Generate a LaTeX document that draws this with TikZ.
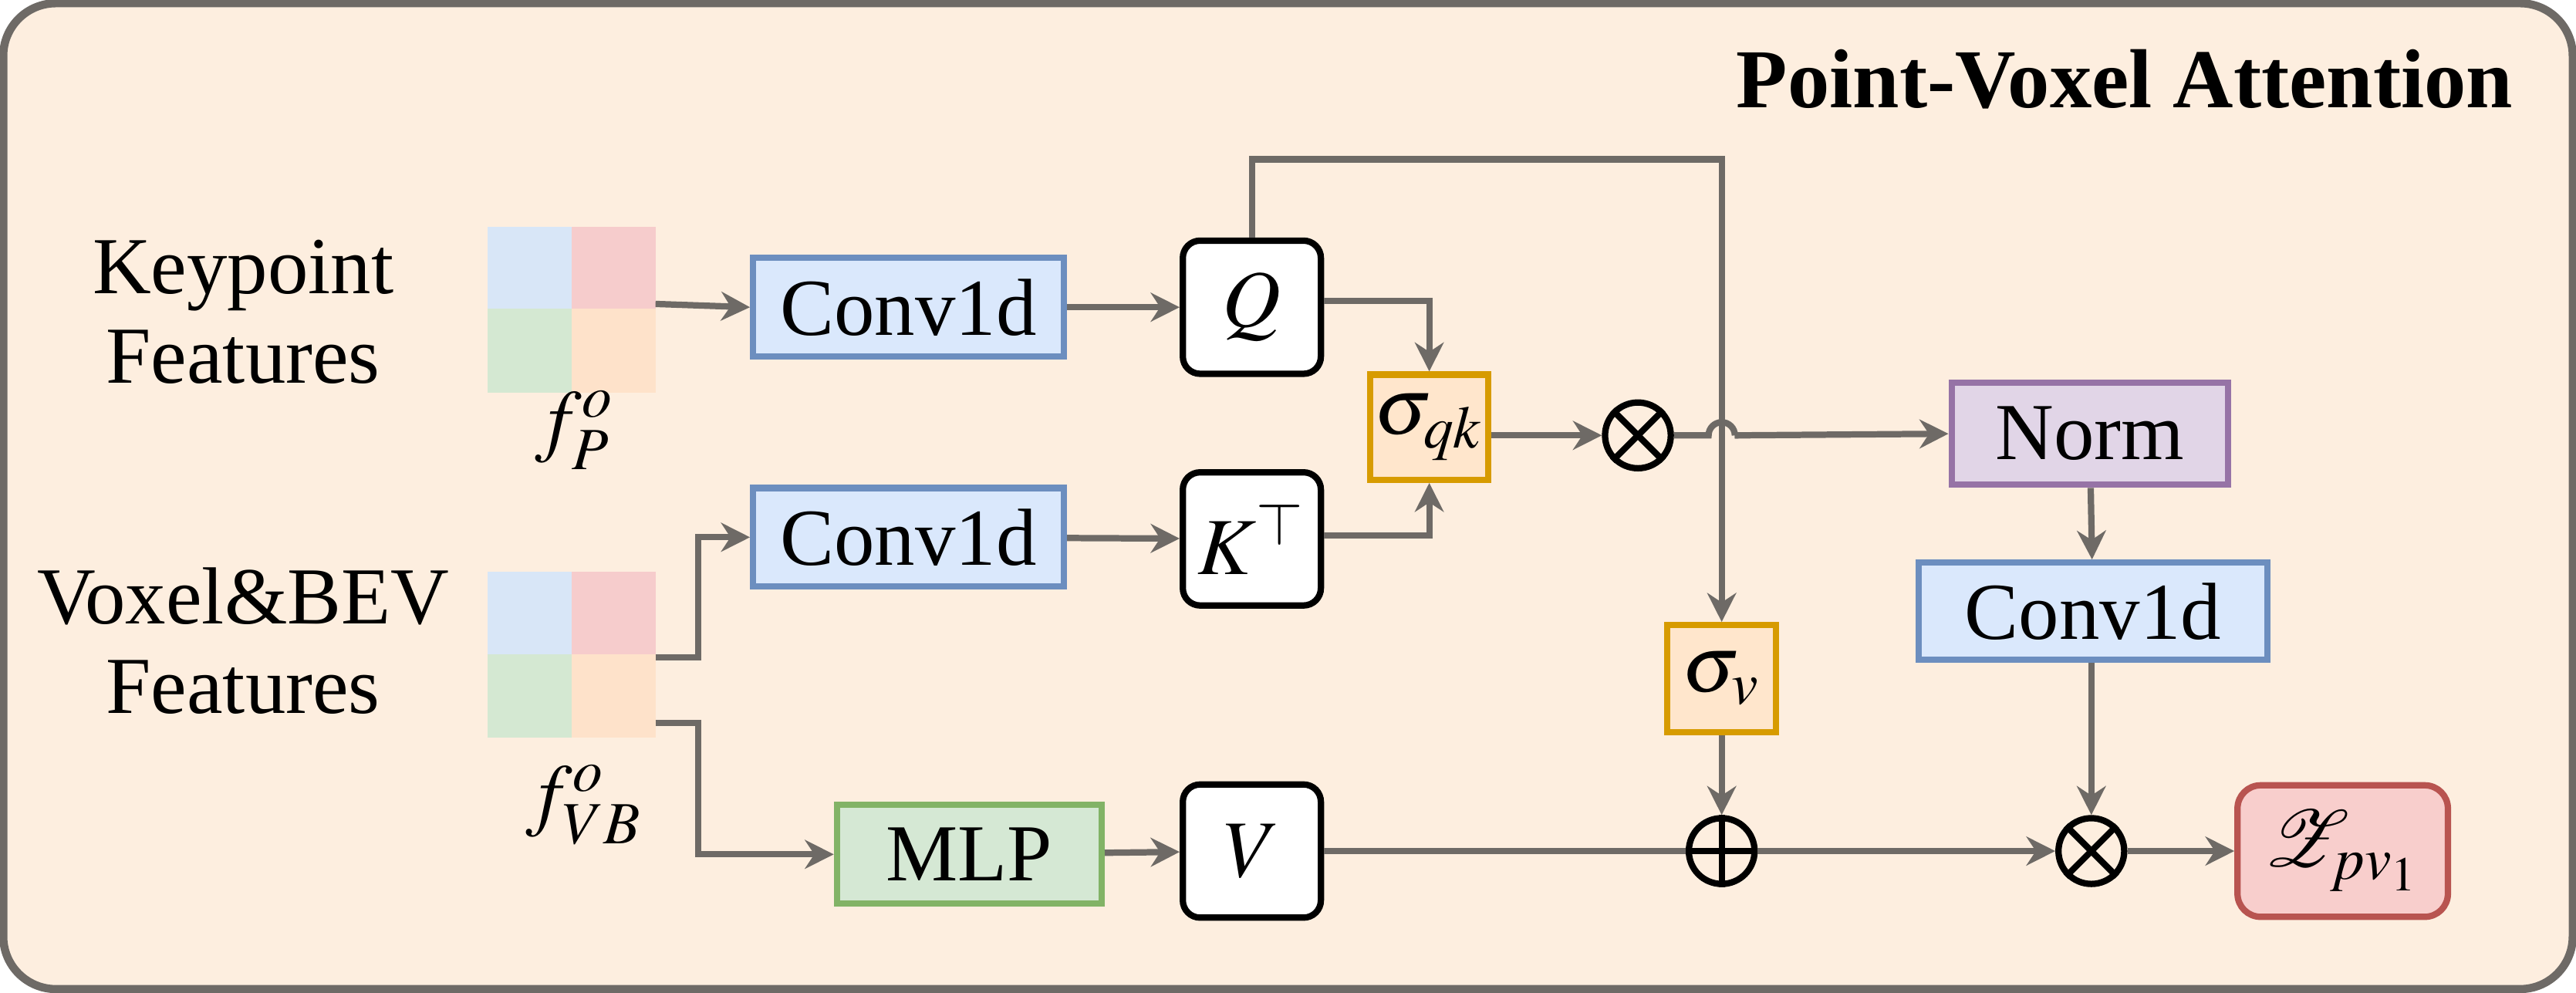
\documentclass[tikz,border=0pt]{standalone}
\usepackage{mathptmx}
\usepackage{fontspec}
\setmainfont{Liberation Serif}
\usetikzlibrary{arrows.meta}
\definecolor{bgc}{HTML}{FDEEDF}
\definecolor{ln}{HTML}{6E6A66}
\begin{document}
\begin{tikzpicture}[x=0.01cm,y=-0.01cm,
  every node/.style={font=\fontsize{14}{15.5}\selectfont},
  box/.style={draw,line width=1.1pt,inner sep=0pt},
  wb/.style={box,draw=black,fill=white,rounded corners=3pt,minimum width=0.84cm,minimum height=0.81cm},
  blue/.style={box,draw=HTMLblueD,fill=HTMLblue},
  con/.style={draw=ln,line width=1.1pt,-{Stealth[length=5pt,width=5pt]}},
  ln/.style={draw=ln,line width=1.1pt},
  op/.style={circle,draw=black,line width=1.1pt,minimum size=0.4cm,inner sep=0pt}]
\definecolor{HTMLblue}{HTML}{DAE8FC}\definecolor{HTMLblueD}{HTML}{6C8EBF}
\definecolor{orf}{HTML}{FFE6CC}\definecolor{ord}{HTML}{D79B00}
\definecolor{puf}{HTML}{E1D5E7}\definecolor{pud}{HTML}{9673A6}
\definecolor{grf}{HTML}{D5E8D4}\definecolor{grd}{HTML}{82B366}
\definecolor{ref}{HTML}{F8CECC}\definecolor{red}{HTML}{B85450}
\definecolor{c1}{HTML}{D8E6F7}\definecolor{c2}{HTML}{F6CCCC}\definecolor{c3}{HTML}{D4E8D2}\definecolor{c4}{HTML}{FEE2CA}
\useasboundingbox (0,0) rectangle (1568,604);
\draw[line width=1.4pt,draw=ln,fill=bgc,rounded corners=0.32cm] (2,2) rectangle (1566,602);
\node[anchor=east,font=\fontsize{14.5}{16}\selectfont\bfseries] (title) at (1542,48) {Point-Voxel Attention};
\node[align=center] (kf) at (148,190) {Keypoint\\Features};
\node[align=center] (vf) at (148,390) {Voxel\&BEV\\Features};
% grids
\foreach \yy/\nm in {138/g1,348/g2}{
 \fill[c1] (297,\yy) rectangle (348,\yy+50);
 \fill[c2] (348,\yy) rectangle (399,\yy+50);
 \fill[c3] (297,\yy+50) rectangle (348,\yy+101);
 \fill[c4] (348,\yy+50) rectangle (399,\yy+101);
}
\coordinate (g1) at (399,185);
\coordinate (g2a) at (399,400);
\coordinate (g2b) at (399,440);
\node (fp) at (350,262) {$f^{o}_{P}$};
\node (fvb) at (356,490) {$f^{o}_{VB}$};
\node[blue,minimum width=1.89cm,minimum height=0.6cm] (c1) at (553,187) {Conv1d};
\node[blue,minimum width=1.89cm,minimum height=0.6cm] (c2) at (553,327) {Conv1d};
\node[blue,minimum width=2.12cm,minimum height=0.59cm] (c3) at (1274,372) {Conv1d};
\node[wb] (q) at (762,187) {$Q$};
\node[wb] (k) at (762,328) {$K^{\top}$};
\node[wb] (v) at (762,518) {$V$};
\node[box,draw=ord,fill=orf,minimum width=0.72cm,minimum height=0.64cm] (sqk) at (870,260) {$\sigma_{qk}$};
\node[box,draw=ord,fill=orf,minimum width=0.66cm,minimum height=0.65cm] (sv) at (1048,413) {$\sigma_{v}$};
\node[box,draw=pud,fill=puf,minimum width=1.68cm,minimum height=0.62cm] (norm) at (1272,264) {Norm};
\node[box,draw=grd,fill=grf,minimum width=1.61cm,minimum height=0.6cm] (mlp) at (590,520) {MLP};
\node[box,draw=red,fill=ref,rounded corners=4pt,minimum width=1.28cm,minimum height=0.8cm] (z) at (1426,518) {$\mathcal{Z}_{pv_1}$};
\node[op] (m1) at (997,265) {};
\draw[line width=1.1pt] (m1.45)--(m1.225) (m1.135)--(m1.315);
\node[op] (a1) at (1048,518) {};
\draw[line width=1.1pt] (a1.north)--(a1.south) (a1.west)--(a1.east);
\node[op] (m2) at (1273,518) {};
\draw[line width=1.1pt] (m2.45)--(m2.225) (m2.135)--(m2.315);
% connectors
\draw[con] (g1) -- (c1.west);
\draw[con] (c1) -- (q);
\draw[con] (c2) -- (k);
\draw[con] (q.north) |- (1048,97) -- (sv.north);
\draw[con] (q.east |- 0,183) -| (sqk.north);
\draw[con] (k.east |- 0,326) -| (sqk.south);
\draw[con] (sqk.east |- m1) -- (m1);
\draw[ln] (m1.east) -- (1040,265) arc[start angle=180,end angle=0,radius=0.08cm] -- (1056,265);
\draw[con] (1056,265) -- (norm.west);
\draw[con] (norm) -- (c3);
\draw[con] (c3.south -| m2) -- (m2);
\draw[con] (g2a) -| (425,327) -- (c2.west);
\draw[con] (g2b) -| (425,520) -- (mlp.west);
\draw[con] (mlp) -- (v);
\draw[ln] (v) -- (a1);
\draw[con] (a1) -- (m2);
\draw[con] (m2) -- (z);
\draw[con] (sv) -- (a1);
\end{tikzpicture}
\end{document}
